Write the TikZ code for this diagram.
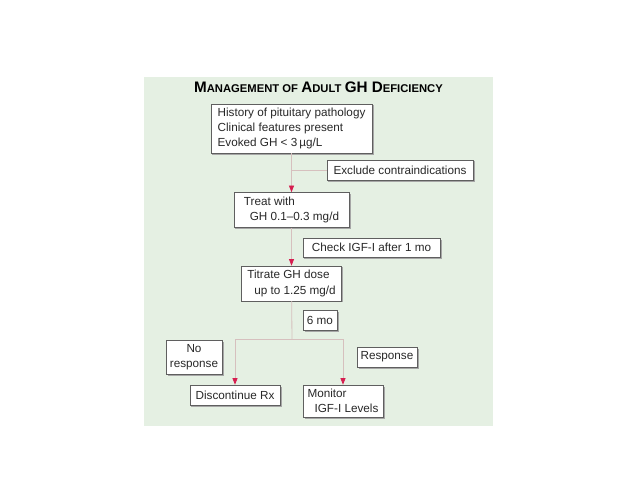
\documentclass[tikz,border=0pt]{standalone}
\usepackage{fontspec}
\setmainfont{Liberation Sans}
\usepackage{xcolor}
\definecolor{palegreen}{RGB}{229,240,227}
\definecolor{linepink}{RGB}{214,192,190}
\definecolor{tipred}{RGB}{214,30,80}
\definecolor{boxgray}{RGB}{95,95,95}
\definecolor{inkgray}{RGB}{40,40,40}
\usepackage{tikz}
\usetikzlibrary{arrows.meta,positioning,shadows}

\newcommand{\capL}[1]{{\fontsize{13}{14}\selectfont #1}}
\newcommand{\capS}[1]{{\fontsize{9.6}{14}\selectfont #1}}

\begin{document}
\begin{tikzpicture}[
  x=0.03cm, y=-0.03cm,
  box/.style={
    draw=boxgray, line width=0.4pt, fill=white, text=inkgray,
    align=left, inner sep=2pt, font=\fontsize{10}{13}\selectfont,
    drop shadow={shadow xshift=0.45mm, shadow yshift=-0.45mm, fill=gray!70, opacity=1}
  },
  link/.style={draw=linepink, line width=0.7pt},
  arrow/.style={link, -{Triangle[length=2mm, width=1.5mm, color=tipred]}}
]
\useasboundingbox (0,0) rectangle (638,478);
\fill[palegreen] (144,77) rectangle (493,426);

\node (title) at (318.5,87) {\bfseries\capL{M}\capS{ANAGEMENT OF} \capL{A}\capS{DULT} \capL{GH D}\capS{EFICIENCY}};

% main column
\node[box, minimum width=4.83cm, minimum height=1.47cm] (hist) at (291.5,128.5)
  {History of pituitary pathology\\Clinical features present\\Evoked GH < 3\,µg/L};
\node[box, below=1.17cm of hist, minimum width=3.45cm, minimum height=1.05cm] (treat)
  {Treat with\\\hspace*{0.5em}GH 0.1--0.3 mg/d};
\node[box, below=1.14cm of treat, minimum width=3cm, minimum height=1.05cm] (titrate)
  {Titrate GH dose\\\hspace*{0.6em}up to 1.25 mg/d};

% side notes
\node[box, minimum width=4.38cm, minimum height=0.6cm] (excl) at (400,170) {Exclude contraindications};
\node[box, minimum width=4.11cm, minimum height=0.57cm] (check) at (371.5,247.5) {Check IGF-I after 1 mo};
\node[box, minimum width=1.02cm, minimum height=0.6cm] (sixmo) at (320,320) {6 mo};
\node[box, align=center, minimum width=1.68cm, minimum height=1.02cm] (noresp) at (194,357) {No\\response};
\node[box, minimum width=1.8cm, minimum height=0.6cm] (resp) at (387,357) {Response};

% outcomes
\node[box, minimum width=2.7cm, minimum height=0.6cm] (discont) at (235,395) {Discontinue Rx};
\node[box, minimum width=2.4cm, minimum height=0.96cm] (monitor) at (343,401)
  {Monitor\\\hspace*{0.6em}IGF-I Levels};

\coordinate (fork) at (292,339);
\draw[arrow] (hist) -- (treat);
\draw[link] (excl) -- (excl -| hist);
\draw[arrow] (treat) -- (titrate);
\draw[link] (titrate) -- (fork);
\draw[arrow] (fork) -| (discont);
\draw[arrow] (fork) -| (monitor);
\end{tikzpicture}
\end{document}
